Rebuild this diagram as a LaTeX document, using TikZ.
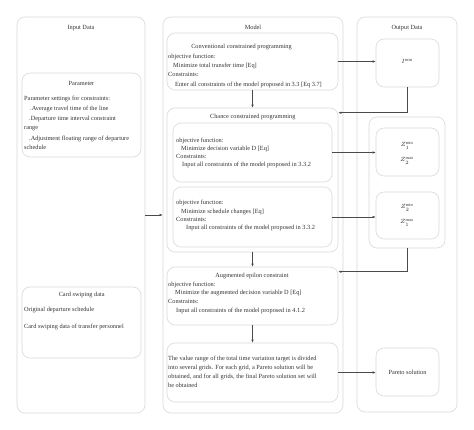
\documentclass[tikz,border=0pt]{standalone}
\usepackage{fontspec}
\setmainfont{Liberation Serif}
\usetikzlibrary{arrows.meta,calc}
\definecolor{boxline}{HTML}{DADADA}
\definecolor{conline}{HTML}{4A4A4A}
\definecolor{txtcol}{HTML}{333333}
\tikzset{
  box/.style={draw=boxline, line width=0.6pt, rounded corners=8pt, inner sep=0pt, fill=white},
  txt/.style={font=\fontsize{6.3}{8}\selectfont, text=txtcol, inner sep=0pt},
  arr/.style={draw=conline, line width=0.5pt, -{Latex[length=3pt,width=2.4pt]}},
  lin/.style={draw=conline, line width=0.5pt}
}
\newcommand\mytxt[4]{\node[txt, anchor=base west] (#1) at (#2,#3+1.8) {#4};}
\newcommand\myctxt[4]{\node[txt, anchor=base] (#1) at (#2,#3+1.8) {#4};}
\begin{document}
\begin{tikzpicture}[x=1pt,y=-1pt]
\useasboundingbox[fill=white] (0,0) rectangle (474,430);
% outer containers
\node[box, minimum width=128pt, minimum height=396pt] (inp) at (81,215) {};
\node[box, minimum width=180pt, minimum height=396pt] (model) at (253,215) {};
\node[box, minimum width=100pt, minimum height=395pt] (outp) at (407,214.5) {};
\myctxt{tinp}{81}{28}{Input Data}
\myctxt{tmodel}{253}{28}{Model}
\myctxt{toutp}{407}{28}{Output Data}
% input boxes
\node[box, minimum width=119pt, minimum height=84pt] (param) at (81.5,115) {};
\myctxt{tparam}{81.5}{84}{Parameter}
\mytxt{p1}{24}{99}{Parameter settings for constraints:}
\mytxt{p2}{30}{109}{.Average travel time of the line}
\mytxt{p3}{29}{119}{.Departure time interval constraint}
\mytxt{p4}{24}{128}{range}
\mytxt{p5}{29}{139}{.Adjustment floating range of departure}
\mytxt{p6}{24}{148}{schedule}
\node[box, minimum width=119pt, minimum height=71pt] (card) at (81.5,322.5) {};
\myctxt{tcard}{81.7}{295}{Card swiping data}
\mytxt{c1}{24}{310}{Original departure schedule}
\mytxt{c2}{24}{327}{Card swiping data of transfer personnel}
% model boxes
\node[box, minimum width=171pt, minimum height=57pt] (conv) at (252.5,61.5) {};
\myctxt{tconv}{241.5}{47}{Conventional constrained programming}
\mytxt{v1}{168}{57}{objective function:}
\mytxt{v2}{173}{66}{Minimize total transfer time [Eq]}
\mytxt{v3}{168}{75}{Constraints:}
\mytxt{v4}{175}{85}{Enter all constraints of the model proposed in 3.3 [Eq 3.7]}
\node[box, minimum width=171pt, minimum height=144pt] (chance) at (252.5,180) {};
\myctxt{tchance}{252.8}{117}{Chance constrained programming}
\node[box, minimum width=159pt, minimum height=59pt] (in1) at (252.5,152.5) {};
\mytxt{a1}{176}{141}{objective function:}
\mytxt{a2}{181}{149}{Minimize decision variable D [Eq]}
\mytxt{a3}{176}{157}{Constraints:}
\mytxt{a4}{182}{165}{Input all constraints of the model proposed in 3.3.2}
\node[box, minimum width=159pt, minimum height=60pt] (in2) at (252.5,217) {};
\mytxt{b1}{176}{203}{objective function:}
\mytxt{b2}{181}{212}{Minimize schedule changes [Eq]}
\mytxt{b3}{176}{219.5}{Constraints:}
\mytxt{b4}{186}{227.5}{Input all constraints of the model proposed in 3.3.2}
\node[box, minimum width=171pt, minimum height=58pt] (aug) at (252.5,296) {};
\myctxt{taug}{252}{276}{Augmented epilon constraint}
\mytxt{g1}{168}{285}{objective function:}
\mytxt{g2}{175}{293}{Minimize the augmented decision variable D [Eq]}
\mytxt{g3}{168}{302}{Constraints:}
\mytxt{g4}{176}{311}{Input all constraints of the model proposed in 4.1.2}
\node[box, minimum width=171pt, minimum height=59pt] (ptext) at (252.5,372.5) {};
\mytxt{r1}{168}{359}{The value range of the total time variation target is divided}
\mytxt{r2}{168}{368}{into several grids. For each grid, a Pareto solution will be}
\mytxt{r3}{168}{377}{obtained, and for all grids, the final Pareto solution set will}
\mytxt{r4}{168}{386}{be obtained}
% output boxes
\node[box, minimum width=63pt, minimum height=48pt] (imin) at (407.5,63) {};
\myctxt{timin}{407}{62}{$I^{\min}$}
\node[box, minimum width=76pt, minimum height=131pt] (zgrp) at (407,182.5) {};
\node[box, minimum width=63pt, minimum height=48pt] (z1) at (407.5,152) {};
\myctxt{za}{407}{145}{$Z_1^{\min}$}
\myctxt{zb}{407}{160}{$Z_2^{\max}$}
\node[box, minimum width=63pt, minimum height=47pt] (z2) at (407.5,215.5) {};
\myctxt{zc}{407}{207}{$Z_2^{\min}$}
\myctxt{zd}{407}{222}{$Z_1^{\max}$}
\node[box, minimum width=63pt, minimum height=48pt] (psol) at (407.5,372) {};
\myctxt{tpsol}{407.5}{373}{Pareto solution}
% connectors
\draw[arr] (inp.east) -- (model.west);
\draw[arr] (conv.south) -- (chance.north);
\draw[arr] (chance.south) -- (aug.north);
\draw[arr] (aug.south) -- (ptext.north);
\draw[arr] (conv.east) -- (conv.east -| imin.west);
\draw[arr] (imin.south) |- ($(chance.north east)+(0,5)$);
\draw[arr] (in1.east) -- (in1.east -| z1.west);
\draw[arr] (in2.east) -- (in2.east -| z2.west);
\draw[arr] (zgrp.south) |- ($(aug.north east)+(0,5)$);
\draw[arr] (ptext.east) -- (ptext.east -| psol.west);
\end{tikzpicture}
\end{document}
